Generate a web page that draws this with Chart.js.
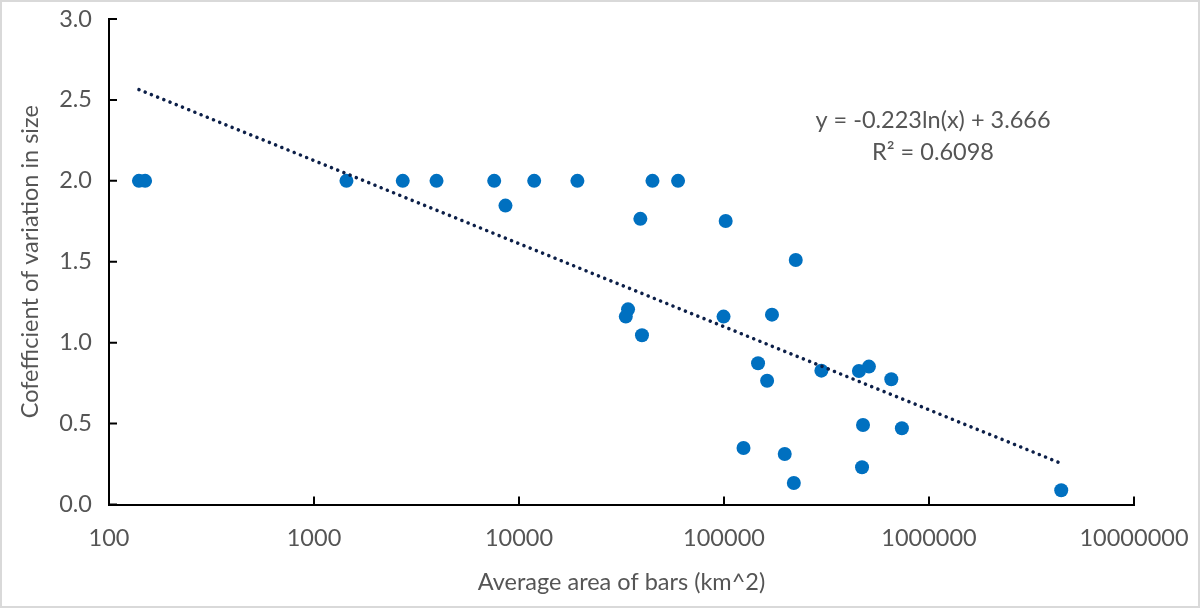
<!DOCTYPE html>
<html>
<head>
<meta charset="utf-8">
<script src="https://cdn.jsdelivr.net/npm/chart.js@4.4.1/dist/chart.umd.min.js"></script>
<style>
  html, body { margin: 0; padding: 0; background: #fff; }
  #wrap { width: 1200px; height: 608px; }
</style>
</head>
<body>
<div id="wrap"><canvas id="cvChart" width="1200" height="608"></canvas></div>
<script>
// values
const areaKm2 = [140, 150, 1440, 2710, 3960, 7570, 11860, 19270, 44780, 59700,
    8590, 39080, 101900, 223900,
    34040, 33190, 39800, 99500, 171400, 146600, 162300, 124500, 197800, 219100,
    298600, 455200, 509300, 654800, 476600, 737500, 471300, 4416000];
const cvSize = [2.0, 2.0, 2.0, 2.0, 2.0, 2.0, 2.0, 2.0, 2.0, 2.0,
    1.847, 1.765, 1.752, 1.511,
    1.206, 1.161, 1.046, 1.161, 1.173, 0.873, 0.765, 0.349, 0.312, 0.133,
    0.827, 0.825, 0.852, 0.774, 0.491, 0.471, 0.230, 0.088];
// logarithmic trendline, ends as drawn
const trendX = [140, 4416000];
const trendY = [2.564, 0.254];
const xTicks = [100, 1000, 10000, 100000, 1000000, 10000000];
const yTicks = [0, 0.5, 1.0, 1.5, 2.0, 2.5, 3.0];
const equationLines = ['y = -0.223ln(x) + 3.666', 'R\u00B2 = 0.6098'];

const textGrey = '#555555';
const fontFamily = 'Lato, "Open Sans", sans-serif';
const fontSize = 23.5;

// Excel style inward ticks + frame + equation label
const extras = {
    id: 'extras',
    afterDraw(chart) {
        const ctx = chart.ctx;
        const xs = chart.scales.x, ys = chart.scales.y;
        const area = chart.chartArea;
        ctx.save();
        ctx.strokeStyle = '#000';
        ctx.lineWidth = 2;
        ctx.beginPath();
        xTicks.forEach((v) => {
            const px = xs.getPixelForValue(v);
            ctx.moveTo(px, area.bottom);
            ctx.lineTo(px, area.bottom - 8);
        });
        yTicks.forEach((v) => {
            const py = ys.getPixelForValue(v);
            ctx.moveTo(area.left, py);
            ctx.lineTo(area.left + 8, py);
        });
        ctx.stroke();

        ctx.fillStyle = textGrey;
        ctx.font = fontSize + 'px ' + fontFamily;
        ctx.textAlign = 'center';
        ctx.textBaseline = 'middle';
        ctx.fillText(equationLines[0], 933, 120);
        ctx.fillText(equationLines[1], 933, 152);

        ctx.strokeStyle = '#d9d9d9';
        ctx.lineWidth = 2;
        ctx.strokeRect(1, 1, chart.width - 2, chart.height - 2);
        ctx.restore();
    }
};

const ctx = document.getElementById('cvChart').getContext('2d');
new Chart(ctx, {
    type: 'scatter',
    data: {
        datasets: [{
            label: 'Trend',
            type: 'line',
            data: trendX.map((x, i) => ({ x: x, y: trendY[i] })),
            borderColor: '#0c1f48',
            borderWidth: 3.5,
            borderDash: [0.1, 6.6],
            borderCapStyle: 'round',
            pointRadius: 0,
            fill: false,
            order: 0,
        }, {
            label: 'CV',
            data: areaKm2.map((x, i) => ({ x: x, y: cvSize[i] })),
            backgroundColor: '#0070c0',
            borderWidth: 0,
            pointRadius: 7,
            pointHoverRadius: 7,
            order: 1,
        }],
    },
    options: {
        responsive: false,
        animation: false,
        layout: { padding: { top: 19, right: 66, bottom: 0, left: 0 } },
        plugins: { legend: { display: false }, tooltip: { enabled: false } },
        scales: {
            x: {
                type: 'logarithmic',
                min: 100,
                max: 10000000,
                afterBuildTicks: (scale) => { scale.ticks = xTicks.map((v) => ({ value: v })); },
                afterFit: (scale) => {
                    scale.height = 103.5;
                    scale.paddingLeft = 0;
                    scale.paddingRight = 0;
                },
                grid: { display: false, drawTicks: false },
                border: { display: true, color: '#000', width: 2 },
                ticks: {
                    color: textGrey,
                    font: { family: fontFamily, size: fontSize },
                    padding: 20,
                    maxRotation: 0,
                    autoSkip: false,
                    callback: (v) => String(v),
                },
                title: {
                    display: true,
                    text: 'Average area of bars (km^2)',
                    color: textGrey,
                    font: { family: fontFamily, size: fontSize },
                    padding: { top: 0, bottom: 11 },
                },
            },
            y: {
                min: 0,
                max: 3,
                afterBuildTicks: (scale) => { scale.ticks = yTicks.map((v) => ({ value: v })); },
                afterFit: (scale) => {
                    scale.width = 109;
                    scale.paddingTop = 0;
                    scale.paddingBottom = 0;
                },
                grid: { display: false, drawTicks: false },
                border: { display: true, color: '#000', width: 2 },
                ticks: {
                    color: textGrey,
                    font: { family: fontFamily, size: fontSize },
                    padding: 17,
                    callback: (v) => v.toFixed(1),
                },
                title: {
                    display: true,
                    text: 'Cofefficient of variation in size',
                    color: textGrey,
                    font: { family: fontFamily, size: fontSize },
                    padding: { top: 16, bottom: 0 },
                },
            },
        },
    },
    plugins: [extras],
});
</script>
</body>
</html>
